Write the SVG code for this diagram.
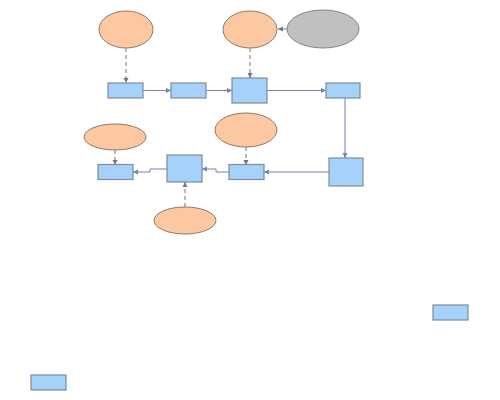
<svg xmlns="http://www.w3.org/2000/svg" width="500" height="400" viewBox="0 0 500 400">
<defs>
<style>
.r{fill:#a6d2fa;stroke:#7d8c9c;stroke-width:1.2}
.e{fill:#fcc8a2;stroke:#8c7866;stroke-width:1}
.g{fill:#c0c0c0;stroke:#858585;stroke-width:1}
.c{fill:none;stroke:#6f84b4;stroke-width:1}
.d{fill:none;stroke:#777;stroke-width:1;stroke-dasharray:4,3}
</style>
<marker id="a" markerWidth="6" markerHeight="6" refX="5" refY="3" orient="auto" markerUnits="userSpaceOnUse"><path d="M0,0.5 L5,3 L0,5.5 Z" fill="#6f84b4"/></marker>
<marker id="ad" markerWidth="6" markerHeight="6" refX="5" refY="3" orient="auto" markerUnits="userSpaceOnUse"><path d="M0,0.5 L5,3 L0,5.5 Z" fill="#777"/></marker>
</defs>
<rect width="500" height="400" fill="#fff"/>
<g id="connectors">
<line class="d" x1="126" y1="48" x2="126" y2="83" marker-end="url(#ad)"/>
<line class="d" x1="250" y1="48" x2="250" y2="78" marker-end="url(#ad)"/>
<line class="c" x1="287" y1="29" x2="278" y2="29" stroke="#777" marker-end="url(#ad)"/>
<line class="c" x1="143" y1="90.5" x2="171" y2="90.5" marker-end="url(#a)"/>
<line class="c" x1="206" y1="90.5" x2="232" y2="90.5" marker-end="url(#a)"/>
<line class="c" x1="267" y1="90.5" x2="326" y2="90.5" marker-end="url(#a)"/>
<line class="c" x1="345" y1="98" x2="345" y2="158" marker-end="url(#a)"/>
<line class="c" x1="329" y1="172" x2="264" y2="172" marker-end="url(#a)"/>
<polyline class="c" points="229,172 216,172 216,169 202,169" marker-end="url(#a)"/>
<polyline class="c" points="167,169 150,169 150,172 133,172" marker-end="url(#a)"/>
<line class="d" x1="115" y1="150" x2="115" y2="165" marker-end="url(#ad)"/>
<line class="d" x1="246" y1="147" x2="246" y2="165" marker-end="url(#ad)"/>
<line class="d" x1="185" y1="207" x2="185" y2="182" marker-end="url(#ad)"/>
</g>
<g id="e1"><ellipse class="e" cx="126" cy="29.5" rx="27" ry="18.5"/></g>
<g id="e2"><ellipse class="e" cx="250" cy="29.5" rx="27" ry="18.5"/></g>
<g id="eg"><ellipse class="g" cx="323" cy="29" rx="36" ry="19"/></g>
<g id="r1"><rect class="r" x="108" y="83" width="35" height="15"/></g>
<g id="r2"><rect class="r" x="171" y="83" width="35" height="15"/></g>
<g id="r3"><rect class="r" x="232" y="78" width="35" height="25"/></g>
<g id="r4"><rect class="r" x="326" y="83" width="34" height="15"/></g>
<g id="e3"><ellipse class="e" cx="115" cy="137" rx="31" ry="13"/></g>
<g id="e4"><ellipse class="e" cx="246" cy="130" rx="31" ry="17"/></g>
<g id="e5"><ellipse class="e" cx="185" cy="220.5" rx="31" ry="13.5"/></g>
<g id="r5"><rect class="r" x="98" y="164.5" width="35" height="15"/></g>
<g id="r6"><rect class="r" x="167" y="155" width="35" height="27"/></g>
<g id="r7"><rect class="r" x="229" y="164.5" width="35" height="15"/></g>
<g id="r8"><rect class="r" x="329" y="158" width="34" height="28"/></g>
<g id="r9"><rect class="r" x="433" y="305" width="35" height="15"/></g>
<g id="r10"><rect class="r" x="31" y="375" width="35" height="15"/></g>
</svg>
